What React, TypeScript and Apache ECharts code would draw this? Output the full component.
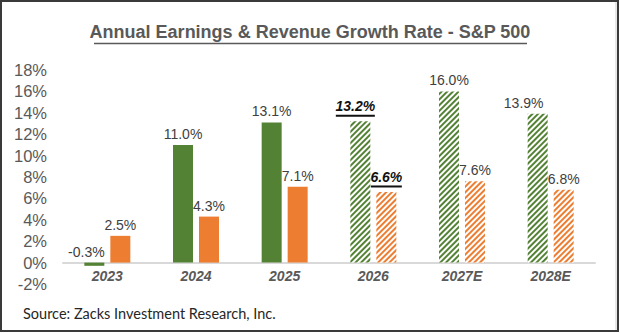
import React, { useEffect, useRef } from "react";
import * as echarts from "echarts";

const categories = ["2023", "2024", "2025", "2026", "2027E", "2028E"];
const earnings = [-0.3, 11.0, 13.1, 13.2, 16.0, 13.9];
const revenue = [2.5, 4.3, 7.1, 6.6, 7.6, 6.8];
const isEstimate = [false, false, false, true, true, true];
const highlighted = ["2026"];
const yTicks = { min: -2, max: 18, interval: 2 };

const GREEN = "#548235";
const ORANGE = "#ED7D31";
const FONT = "'Liberation Sans', Arial, sans-serif";

const labelOffsets: Record<string, number[]> = {
  "earn-2023": [-8, 0],
  "earn-2026": [-5, 0],
  "earn-2028E": [-14, 0],
};

function makeData(values: number[], key: string, estimate: boolean) {
  return values.map((v, i) => {
    if (isEstimate[i] !== estimate) return null;
    const off = labelOffsets[`${key}-${categories[i]}`];
    return off ? { value: v, label: { offset: off } } : v;
  });
}

function makeLabel(key: string) {
  return {
    show: true,
    position: "top",
    distance: 4,
    color: "#404040",
    fontSize: 14,
    fontFamily: FONT,
    formatter: (p: any) => {
      const txt = `${Number(p.value).toFixed(1)}%`;
      if (highlighted.includes(p.name)) {
        return `{bu|${txt}}\n{${key === "earn" ? "ul1" : "ul2"}|}`;
      }
      return txt;
    },
    rich: {
      bu: { fontWeight: "bold", fontStyle: "italic", color: "#111", fontSize: 14, fontFamily: FONT, lineHeight: 16 },
      ul1: { width: 39, height: 2, backgroundColor: "#111", lineHeight: 3 },
      ul2: { width: 31, height: 2, backgroundColor: "#111", lineHeight: 3 },
    },
  };
}

function hatch(color: string) {
  return {
    color: "#ffffff",
    decal: {
      symbol: "rect",
      color: color,
      dashArrayX: [1, 0],
      dashArrayY: [2, 2],
      rotation: -Math.PI / 4,
      symbolSize: 1,
    },
  };
}

export default function App() {
  const ref = useRef<HTMLDivElement>(null);
  useEffect(() => {
    if (!ref.current) return;
    const chart = echarts.init(ref.current, undefined, { renderer: "svg" });
    chart.setOption({
      animation: false,
      backgroundColor: "#ffffff",
      textStyle: { fontFamily: FONT },
      grid: { left: 63, right: 25, top: 70, bottom: 49, containLabel: false },
      xAxis: {
        type: "category",
        data: categories,
        axisLine: { show: true, onZero: true, lineStyle: { color: "#d9d9d9", width: 2 } },
        axisTick: { show: false },
        axisLabel: {
          color: "#595959",
          fontSize: 14,
          fontWeight: "bold",
          fontStyle: "italic",
          margin: -15,
          fontFamily: FONT,
        },
        splitLine: { show: false },
      },
      yAxis: {
        type: "value",
        min: yTicks.min,
        max: yTicks.max,
        interval: yTicks.interval,
        axisLine: { show: false },
        axisTick: { show: false },
        splitLine: { show: false },
        axisLabel: {
          formatter: "{value}%",
          color: "#595959",
          fontSize: 16.5,
          margin: 16,
          fontFamily: FONT,
        },
      },
      series: [
        {
          name: "Earnings",
          type: "bar",
          stack: "earn",
          barWidth: 20,
          barGap: "30%",
          data: makeData(earnings, "earn", false),
          itemStyle: { color: GREEN },
          label: makeLabel("earn"),
        },
        {
          name: "Revenue",
          type: "bar",
          stack: "rev",
          barWidth: 20,
          barGap: "30%",
          data: makeData(revenue, "rev", false),
          itemStyle: { color: ORANGE },
          label: makeLabel("rev"),
        },
        {
          name: "Earnings Est",
          type: "bar",
          stack: "earn",
          barWidth: 20,
          barGap: "30%",
          data: makeData(earnings, "earn", true),
          itemStyle: hatch(GREEN),
          label: makeLabel("earn"),
        },
        {
          name: "Revenue Est",
          type: "bar",
          stack: "rev",
          barWidth: 20,
          barGap: "30%",
          data: makeData(revenue, "rev", true),
          itemStyle: hatch(ORANGE),
          label: makeLabel("rev"),
        },
      ],
      graphic: [
        {
          type: "rect",
          shape: { x: 1, y: 1, width: 617, height: 330 },
          style: { fill: "none", stroke: "#3a3a3a", lineWidth: 2 },
          silent: true,
        },
        {
          type: "line",
          shape: { x1: 616, y1: 2, x2: 616, y2: 330 },
          style: { stroke: "#cfcfcf", lineWidth: 1 },
          silent: true,
        },
        {
          type: "text",
          x: 310,
          y: 32,
          style: {
            text: "Annual Earnings & Revenue Growth Rate - S&P 500",
            align: "center",
            verticalAlign: "middle",
            font: `bold 18px ${FONT}`,
            fill: "#595959",
          },
        },
        {
          type: "line",
          shape: { x1: 94, y1: 43.5, x2: 527, y2: 43.5 },
          style: { stroke: "#595959", lineWidth: 1.5 },
          silent: true,
        },
        {
          type: "text",
          x: 23,
          y: 313,
          style: {
            text: "Source: Zacks Investment Research, Inc.",
            align: "left",
            verticalAlign: "middle",
            font: `14.5px Lato, ${FONT}`,
            fill: "#262626",
          },
        },
      ],
    });
    return () => chart.dispose();
  }, []);
  return (
    <div
      ref={ref}
      style={{ position: "absolute", left: 0, top: 0, width: 620, height: 333 }}
    />
  );
}
